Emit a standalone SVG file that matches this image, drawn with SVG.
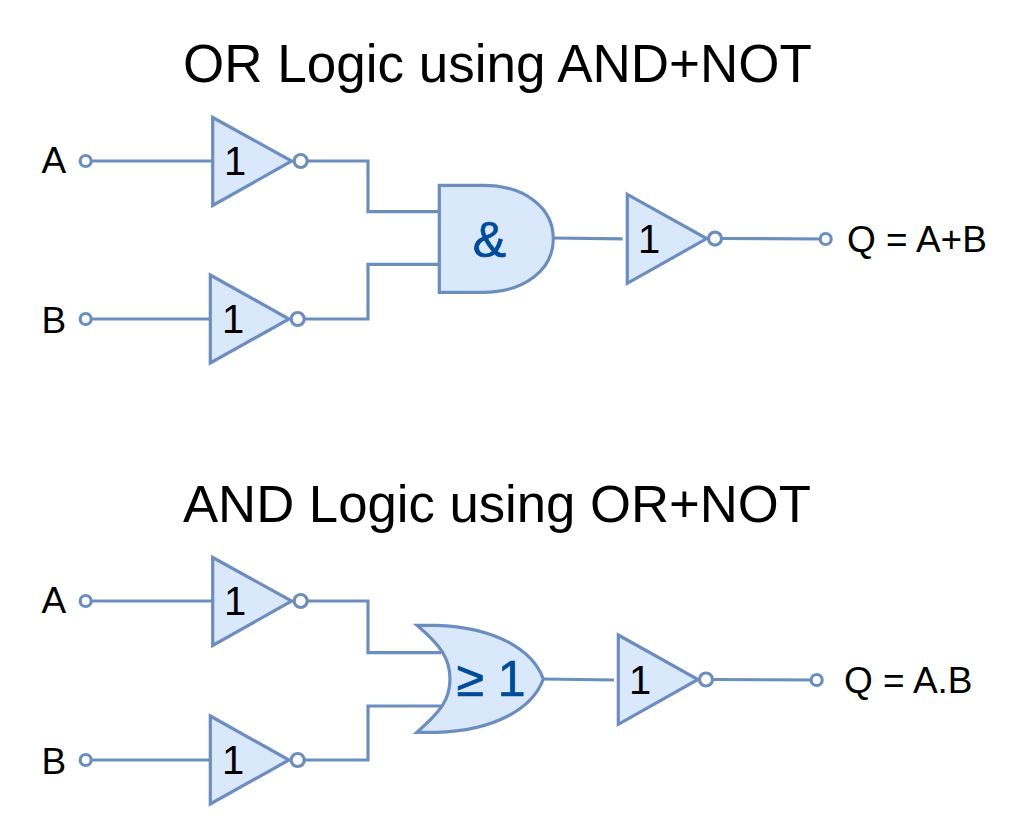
<svg xmlns="http://www.w3.org/2000/svg" width="1024" height="834" viewBox="0 0 1024 834">
<style>
.w{fill:none;stroke:#6c8ebf;stroke-width:3.200}
.g{fill:#dae8fc;stroke:#6c8ebf;stroke-width:3.200}
.p{fill:#fff;stroke:#6c8ebf;stroke-width:3.200}
text{font-family:"Liberation Sans",Arial,sans-serif;fill:#000}
.t{font-size:53px;text-anchor:middle}
.l{font-size:37px}
.n{font-size:40px;text-anchor:middle}
.s{font-size:50px;text-anchor:middle;fill:#004c99;stroke:#004c99;stroke-width:.7px}
</style>
<rect width="1024" height="834" fill="#fff"/>
<text class="t" x="497.500" y="81.500">OR Logic using AND+NOT</text>
<text class="t" x="497" y="522" style="font-size:52.700px">AND Logic using OR+NOT</text>
<g id="connectors">
<path class="w" d="M85.700 161H212.700"/>
<path class="w" d="M85.700 319H212"/>
<path class="w" d="M307 161H368V211.700H439.300"/>
<path class="w" d="M304 319H368V264.300H439.300"/>
<path class="w" d="M553.300 238L622.700 238.800"/>
<path class="w" d="M721.500 238.500L825.700 239"/>
<path class="w" d="M85.700 601H212.700"/>
<path class="w" d="M85.700 760H212"/>
<path class="w" d="M307 601H368V652.700H441"/>
<path class="w" d="M304 760H368V706H441"/>
<path class="w" d="M543.300 679L614 680"/>
<path class="w" d="M712.500 679.500L816.700 680"/>
</g>
<g id="in-a1"><circle class="p" cx="85.700" cy="161" r="5.500"/><text class="l" x="41.500" y="173">A</text></g>
<g id="in-b1"><circle class="p" cx="85.700" cy="319" r="5.500"/><text class="l" x="41.500" y="333">B</text></g>
<g id="not-a1"><path class="g" d="M212.700 117.500L291.700 161L212.700 205.500Z"/><circle class="p" cx="300.700" cy="161" r="6.500"/><text class="n" x="235" y="175">1</text></g>
<g id="not-b1"><path class="g" d="M210.300 275L289 319L210.300 363Z"/><circle class="p" cx="297.700" cy="319" r="6.500"/><text class="n" x="233" y="333">1</text></g>
<g id="and"><path class="g" d="M439.300 185.300H483C525 185.300 553.300 208 553.300 238.800C553.300 269.500 525 292.300 483 292.300H439.300Z"/><text class="s" x="489.500" y="257">&amp;</text></g>
<g id="not-q1"><path class="g" d="M627.300 194.300L706.700 238.600L627.300 283.300Z"/><circle class="p" cx="715" cy="238.600" r="6.500"/><text class="n" x="649" y="253">1</text></g>
<g id="out-q1"><circle class="p" cx="825.700" cy="239" r="5.500"/><text class="l" x="847" y="252">Q = A+B</text></g>
<g id="in-a2"><circle class="p" cx="85.700" cy="601" r="5.500"/><text class="l" x="41.500" y="613">A</text></g>
<g id="in-b2"><circle class="p" cx="85.700" cy="760" r="5.500"/><text class="l" x="41.500" y="774">B</text></g>
<g id="not-a2"><path class="g" d="M212.700 557.500L291.700 601L212.700 645.500Z"/><circle class="p" cx="300.700" cy="601" r="6.500"/><text class="n" x="235" y="615">1</text></g>
<g id="not-b2"><path class="g" d="M210.300 716L289 760L210.300 804Z"/><circle class="p" cx="297.700" cy="760" r="6.500"/><text class="n" x="233" y="774">1</text></g>
<g id="or"><path class="g" d="M417 625.300H436C495 627 533 650 543.300 679C533 708 495 731 436 732.300H417C440 712 450 700 450 679C450 658 440 645 417 625.300Z"/><text class="s" x="491" y="695.500">≥ 1</text></g>
<g id="not-q2"><path class="g" d="M618.300 635L698 679.500L618.300 724.300Z"/><circle class="p" cx="706" cy="679.500" r="6.500"/><text class="n" x="640" y="694">1</text></g>
<g id="out-q2"><circle class="p" cx="816.700" cy="680" r="5.500"/><text class="l" x="844" y="693">Q = A.B</text></g>
</svg>
